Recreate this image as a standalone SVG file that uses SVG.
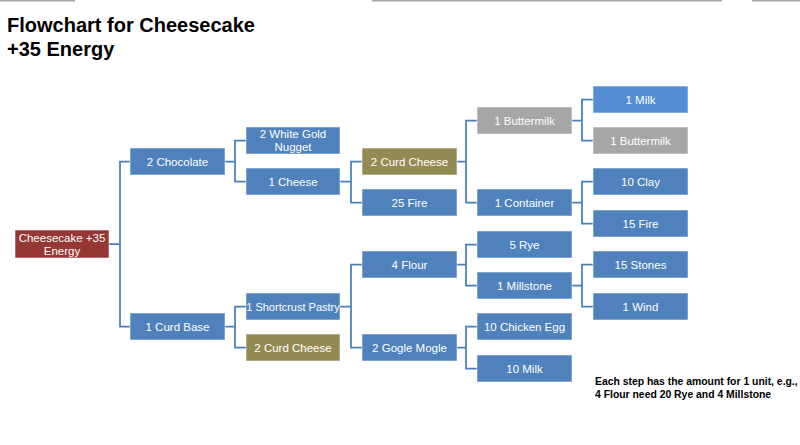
<svg xmlns="http://www.w3.org/2000/svg" width="800" height="445" viewBox="0 0 800 445">
<style>
.bx{stroke:#ffffff;stroke-opacity:0.55;stroke-width:1}
.blue{fill:#4F81BD}
.lblue{fill:#558ED5}
.olive{fill:#948A54}
.gray{fill:#A6A6A6}
.red{fill:#953735}
.t{font-family:"Liberation Sans",Arial,sans-serif;font-size:11.5px;fill:#ffffff;text-anchor:middle}
.c{fill:none;stroke:#4A7EBB;stroke-width:1.75;stroke-linejoin:miter}
.title{font-family:"Liberation Sans",Arial,sans-serif;font-size:20px;font-weight:bold;fill:#000}
.note{font-family:"Liberation Sans",Arial,sans-serif;font-size:10.4px;font-weight:bold;fill:#000}
.top{stroke:#A6A6A6;stroke-width:2}
</style>
<rect width="800" height="445" fill="#ffffff"/>
<g id="toplines">
<line class="top" x1="0" y1="0.5" x2="75" y2="0.5"/>
<line class="top" x1="372" y1="0.5" x2="722" y2="0.5"/>
<line class="top" x1="752" y1="0.5" x2="800" y2="0.5"/>
</g>
<g id="title">
<text class="title" x="7" y="32">Flowchart for Cheesecake</text>
<text class="title" x="7" y="56">+35 Energy</text>
</g>
<g id="connectors">
<path class="c" d="M109 244H120M130 161.5H120V326.5H130"/>
<path class="c" d="M225 161.5H235M246 140.5H235V181.5H246"/>
<path class="c" d="M225 326.5H235M246 306.5H235V347.5H246"/>
<path class="c" d="M340 181.5H351M362 161.5H351V202.5H362"/>
<path class="c" d="M340 306.5H351M362 264.5H351V347.5H362"/>
<path class="c" d="M457 161.5H466M477 120.5H466V202.5H477"/>
<path class="c" d="M457 264.5H466M477 244.5H466V285.5H477"/>
<path class="c" d="M457 347.5H466M477 326.5H466V368.5H477"/>
<path class="c" d="M572 120.5H582M593 99.5H582V140.5H593"/>
<path class="c" d="M572 202.5H582M593 181.5H582V223.5H593"/>
<path class="c" d="M572 285.5H582M593 264.5H582V306.5H593"/>
</g>
<g id="n-root"><rect class="bx red" x="15" y="230" width="94" height="28"/><text class="t" x="62" y="241.5">Cheesecake +35</text><text class="t" x="62" y="254.5">Energy</text></g>
<g id="n-chocolate"><rect class="bx blue" x="130" y="148" width="95" height="27"/><text class="t" x="177.5" y="165.5">2 Chocolate</text></g>
<g id="n-curdbase"><rect class="bx blue" x="130" y="313" width="95" height="27"/><text class="t" x="177.5" y="330.5">1 Curd Base</text></g>
<g id="n-wgn"><rect class="bx blue" x="246" y="127" width="94" height="27"/><text class="t" x="293" y="137.5">2 White Gold</text><text class="t" x="293" y="151">Nugget</text></g>
<g id="n-cheese"><rect class="bx blue" x="246" y="168" width="94" height="27"/><text class="t" x="293" y="185.5">1 Cheese</text></g>
<g id="n-shortcrust"><rect class="bx blue" x="246" y="293" width="94" height="27"/><text class="t" x="293" y="310.5" style="font-size:11px">1 Shortcrust Pastry</text></g>
<g id="n-curdcheese2"><rect class="bx olive" x="246" y="334" width="94" height="27"/><text class="t" x="293" y="351.5">2 Curd Cheese</text></g>
<g id="n-curdcheese"><rect class="bx olive" x="362" y="148" width="95" height="27"/><text class="t" x="409.5" y="165.5">2 Curd Cheese</text></g>
<g id="n-fire25"><rect class="bx blue" x="362" y="189" width="95" height="27"/><text class="t" x="409.5" y="206.5">25 Fire</text></g>
<g id="n-flour"><rect class="bx blue" x="362" y="251" width="95" height="27"/><text class="t" x="409.5" y="268.5">4 Flour</text></g>
<g id="n-gogle"><rect class="bx blue" x="362" y="334" width="95" height="27"/><text class="t" x="409.5" y="351.5">2 Gogle Mogle</text></g>
<g id="n-buttermilk"><rect class="bx gray" x="477" y="107" width="95" height="27"/><text class="t" x="524.5" y="124.5">1 Buttermilk</text></g>
<g id="n-container"><rect class="bx blue" x="477" y="189" width="95" height="27"/><text class="t" x="524.5" y="206.5">1 Container</text></g>
<g id="n-rye"><rect class="bx blue" x="477" y="231" width="95" height="27"/><text class="t" x="524.5" y="248.5">5 Rye</text></g>
<g id="n-millstone"><rect class="bx blue" x="477" y="272" width="95" height="27"/><text class="t" x="524.5" y="289.5">1 Millstone</text></g>
<g id="n-egg"><rect class="bx blue" x="477" y="313" width="95" height="27"/><text class="t" x="524.5" y="330.5">10 Chicken Egg</text></g>
<g id="n-milk10"><rect class="bx blue" x="477" y="355" width="95" height="27"/><text class="t" x="524.5" y="372.5">10 Milk</text></g>
<g id="n-milk1"><rect class="bx lblue" x="593" y="86" width="95" height="27"/><text class="t" x="640.5" y="103.5">1 Milk</text></g>
<g id="n-buttermilk2"><rect class="bx gray" x="593" y="127" width="95" height="27"/><text class="t" x="640.5" y="144.5">1 Buttermilk</text></g>
<g id="n-clay"><rect class="bx blue" x="593" y="168" width="95" height="27"/><text class="t" x="640.5" y="185.5">10 Clay</text></g>
<g id="n-fire15"><rect class="bx blue" x="593" y="210" width="95" height="27"/><text class="t" x="640.5" y="227.5">15 Fire</text></g>
<g id="n-stones"><rect class="bx blue" x="593" y="251" width="95" height="27"/><text class="t" x="640.5" y="268.5">15 Stones</text></g>
<g id="n-wind"><rect class="bx blue" x="593" y="293" width="95" height="27"/><text class="t" x="640.5" y="310.5">1 Wind</text></g>
<g id="note">
<text class="note" x="595" y="385">Each step has the amount for 1 unit, e.g.,</text>
<text class="note" x="595" y="397.5">4 Flour need 20 Rye and 4 Millstone</text>
</g>
</svg>
